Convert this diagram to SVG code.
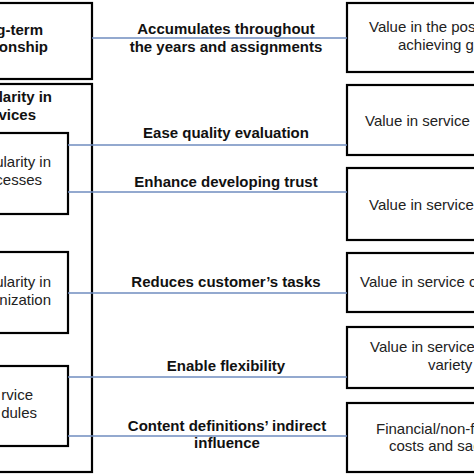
<svg xmlns="http://www.w3.org/2000/svg" width="474" height="474" viewBox="0 0 474 474">
<style>
.box{fill:#fff;stroke:#000;stroke-width:2.2}
.lbl{font-family:"Liberation Sans",Arial,sans-serif;font-size:15px;font-weight:bold;fill:#111}
.txt{font-family:"Liberation Sans",Arial,sans-serif;font-size:15px;fill:#222}
.mid{text-anchor:middle}
.end{text-anchor:end}
.con{stroke:#6f8dbf;stroke-width:1.6;fill:none}
</style>
<rect width="474" height="474" fill="#fff"/>
<g id="long-term-relationship">
<rect class="box" x="-80" y="3" width="172" height="76"/>
<text class="lbl end" x="43" y="35">g-term</text>
<text class="lbl end" x="48" y="52">onship</text>
</g>
<g id="modularity-in-services">
<rect class="box" x="-80" y="84" width="172" height="388"/>
<text class="lbl end" x="52" y="102">larity in</text>
<text class="lbl end" x="36" y="120">vices</text>
</g>
<g id="modularity-in-processes">
<rect class="box" x="-50" y="133" width="118" height="81"/>
<text class="txt end" x="51" y="167">ularity in</text>
<text class="txt end" x="42" y="185">cesses</text>
</g>
<g id="modularity-in-organization">
<rect class="box" x="-50" y="252" width="118" height="81"/>
<text class="txt end" x="51" y="287">ularity in</text>
<text class="txt end" x="51" y="305">nization</text>
</g>
<g id="service-modules">
<rect class="box" x="-50" y="366" width="118" height="80"/>
<text class="txt end" x="33" y="400">rvice</text>
<text class="txt end" x="37" y="418">dules</text>
</g>
<g id="value-goals">
<rect class="box" x="347" y="3" width="200" height="69"/>
<text class="txt" x="369" y="32">Value in the pos</text>
<text class="txt" x="398" y="50">achieving g</text>
</g>
<g id="value-service-1">
<rect class="box" x="347" y="85" width="200" height="70"/>
<text class="txt" x="365" y="126">Value in service</text>
</g>
<g id="value-service-2">
<rect class="box" x="347" y="168" width="200" height="72"/>
<text class="txt" x="369" y="210">Value in service</text>
</g>
<g id="value-service-3">
<rect class="box" x="347" y="253" width="200" height="59"/>
<text class="txt" x="360" y="287">Value in service c</text>
</g>
<g id="value-service-variety">
<rect class="box" x="347" y="327" width="200" height="61"/>
<text class="txt" x="370" y="352">Value in service</text>
<text class="txt" x="428" y="370">variety</text>
</g>
<g id="costs-sacrifices">
<rect class="box" x="347" y="403" width="200" height="69"/>
<text class="txt" x="376" y="434">Financial/non-f</text>
<text class="txt" x="389" y="451">costs and sac</text>
</g>
<g id="connectors">
<line class="con" x1="92" y1="38" x2="347" y2="38"/>
<line class="con" x1="68" y1="145" x2="347" y2="145"/>
<line class="con" x1="68" y1="192" x2="347" y2="192"/>
<line class="con" x1="68" y1="293" x2="347" y2="293"/>
<line class="con" x1="68" y1="377" x2="347" y2="377"/>
<line class="con" x1="68" y1="436" x2="347" y2="436"/>
<text class="lbl mid" x="226" y="34">Accumulates throughout</text>
<text class="lbl mid" x="226" y="52">the years and assignments</text>
<text class="lbl mid" x="226" y="138">Ease quality evaluation</text>
<text class="lbl mid" x="226" y="187">Enhance developing trust</text>
<text class="lbl mid" x="226" y="287">Reduces customer’s tasks</text>
<text class="lbl mid" x="226" y="371">Enable flexibility</text>
<text class="lbl mid" x="227" y="431">Content definitions’ indirect</text>
<text class="lbl mid" x="227" y="448">influence</text>
</g>
</svg>
